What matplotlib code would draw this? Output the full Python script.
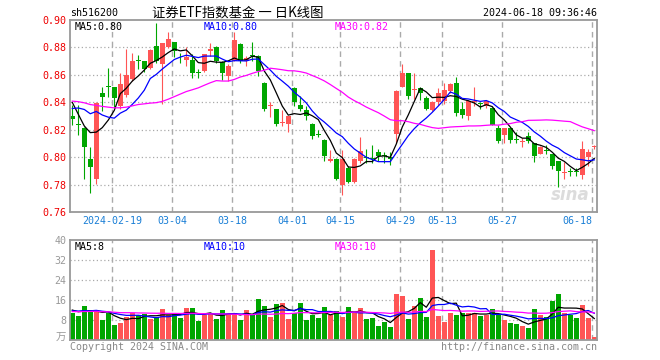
import numpy as np
import pandas as pd
import matplotlib
matplotlib.use("Agg")
import matplotlib.pyplot as plt

# daily K data, 2024-01-31 .. 2024-06-18
opens = [0.8300, 0.8240, 0.8212, 0.7985, 0.7844, 0.8465, 0.8515, 0.8514, 0.8371, 0.8450,
         0.8568, 0.8703, 0.8698, 0.8652, 0.8807, 0.8680, 0.8800, 0.8836, 0.8715, 0.8710,
         0.8706, 0.8614, 0.8627, 0.8775, 0.8806, 0.8695, 0.8594, 0.8702, 0.8828, 0.8700,
         0.8745, 0.8736, 0.8544, 0.8375, 0.8349, 0.8250, 0.8240, 0.8507, 0.8378, 0.8341,
         0.8244, 0.8165, 0.8128, 0.7970, 0.7990, 0.7795, 0.7920, 0.7820, 0.7975, 0.7998,
         0.7993, 0.8035, 0.8010, 0.8002, 0.8166, 0.8515, 0.8612, 0.8490, 0.8502, 0.8429,
         0.8343, 0.8405, 0.8408, 0.8483, 0.8544, 0.8349, 0.8300, 0.8400, 0.8388, 0.8370,
         0.8358, 0.8215, 0.8158, 0.8210, 0.8127, 0.8110, 0.8157, 0.8100, 0.8022, 0.8046,
         0.8020, 0.7971, 0.7888, 0.7893, 0.7893, 0.7870, 0.7998, 0.8073]
highs = [0.8378, 0.8380, 0.8220, 0.8073, 0.8402, 0.8510, 0.8648, 0.8514, 0.8610, 0.8787,
         0.8760, 0.8745, 0.8700, 0.8792, 0.8975, 0.8835, 0.8915, 0.8840, 0.8761, 0.8800,
         0.8751, 0.8646, 0.8752, 0.8834, 0.8808, 0.8700, 0.8678, 0.8912, 0.8830, 0.8735,
         0.8836, 0.8745, 0.8546, 0.8405, 0.8350, 0.8341, 0.8300, 0.8512, 0.8446, 0.8373,
         0.8246, 0.8195, 0.8130, 0.8050, 0.7995, 0.8053, 0.7935, 0.7992, 0.8150, 0.8056,
         0.8085, 0.8056, 0.8040, 0.8037, 0.8490, 0.8678, 0.8614, 0.8612, 0.8508, 0.8446,
         0.8410, 0.8502, 0.8544, 0.8537, 0.8585, 0.8405, 0.8415, 0.8515, 0.8405, 0.8420,
         0.8366, 0.8237, 0.8215, 0.8215, 0.8185, 0.8141, 0.8185, 0.8102, 0.8080, 0.8085,
         0.8022, 0.7975, 0.7963, 0.7922, 0.7922, 0.8117, 0.8060, 0.8092]
lows = [0.8235, 0.8163, 0.7839, 0.7741, 0.7807, 0.8335, 0.8440, 0.8360, 0.8354, 0.8435,
        0.8555, 0.8640, 0.8622, 0.8640, 0.8690, 0.8385, 0.8795, 0.8732, 0.8688, 0.8668,
        0.8578, 0.8576, 0.8620, 0.8735, 0.8690, 0.8560, 0.8555, 0.8700, 0.8690, 0.8665,
        0.8700, 0.8592, 0.8340, 0.8290, 0.8227, 0.8227, 0.8182, 0.8370, 0.8337, 0.8268,
        0.8130, 0.8146, 0.7969, 0.7968, 0.7830, 0.7727, 0.7808, 0.7815, 0.7960, 0.7960,
        0.7960, 0.7970, 0.7960, 0.7940, 0.8105, 0.8510, 0.8427, 0.8422, 0.8417, 0.8341,
        0.8335, 0.8380, 0.8385, 0.8470, 0.8302, 0.8288, 0.8272, 0.8373, 0.8349, 0.8355,
        0.8232, 0.8105, 0.8105, 0.8100, 0.8105, 0.8076, 0.8100, 0.7963, 0.8020, 0.8020,
        0.7912, 0.7783, 0.7840, 0.7861, 0.7866, 0.7840, 0.7935, 0.8060]
closes = [0.8278, 0.8236, 0.8073, 0.7927, 0.8398, 0.8441, 0.8512, 0.8428, 0.8535, 0.8597,
          0.8700, 0.8700, 0.8642, 0.8782, 0.8698, 0.8830, 0.8860, 0.8775, 0.8712, 0.8732,
          0.8616, 0.8612, 0.8750, 0.8785, 0.8700, 0.8610, 0.8665, 0.8854, 0.8702, 0.8720,
          0.8740, 0.8628, 0.8350, 0.8380, 0.8245, 0.8257, 0.8300, 0.8405, 0.8348, 0.8302,
          0.8152, 0.8163, 0.8006, 0.7990, 0.7837, 0.7990, 0.7818, 0.7990, 0.8046, 0.7995,
          0.7990, 0.8008, 0.8007, 0.7990, 0.8483, 0.8612, 0.8449, 0.8496, 0.8470, 0.8349,
          0.8405, 0.8466, 0.8488, 0.8532, 0.8320, 0.8307, 0.8410, 0.8405, 0.8385, 0.8408,
          0.8234, 0.8115, 0.8213, 0.8127, 0.8124, 0.8113, 0.8115, 0.8007, 0.8075, 0.8044,
          0.7937, 0.7898, 0.7892, 0.7892, 0.7891, 0.8056, 0.8040, 0.8076]
# volume, 10k lots
volumes = [10.7, 9.6, 13.6, 12.0, 12.0, 8.0, 10.7, 6.0, 6.9, 9.1,
           10.7, 10.0, 10.4, 8.3, 9.1, 12.4, 10.0, 10.5, 9.0, 13.0,
           12.7, 7.5, 10.0, 11.0, 8.5, 12.0, 10.5, 11.0, 8.0, 12.0,
           10.0, 16.5, 13.7, 9.3, 14.5, 15.0, 8.5, 11.0, 15.0, 8.0,
           10.0, 9.0, 13.3, 10.0, 11.6, 9.1, 13.1, 11.6, 12.7, 8.3,
           8.7, 5.6, 7.1, 5.2, 18.4, 17.6, 8.4, 13.6, 16.8, 9.1,
           36.0, 9.6, 7.3, 10.8, 10.0, 10.7, 10.8, 10.8, 9.6, 10.0,
           12.4, 10.0, 8.0, 6.9, 6.3, 5.6, 4.9, 12.4, 10.0, 9.1,
           15.6, 18.4, 10.8, 10.0, 8.9, 13.9, 8.9, 1.2]

# the 29 sessions before the window (only feed the moving averages)
pre_closes = [0.836, 0.832, 0.831, 0.858, 0.866, 0.868, 0.858, 0.852, 0.846, 0.842,
              0.840, 0.850, 0.862, 0.860, 0.855, 0.838, 0.822, 0.815, 0.818, 0.822,
              0.820, 0.818, 0.824, 0.823, 0.870, 0.867, 0.850, 0.817, 0.838]
pre_volumes = [10.5, 12.0, 11.2, 9.8, 13.5, 10.9, 11.6, 12.4, 9.5, 10.8,
               12.9, 11.3, 10.2, 9.9, 11.8, 12.6, 10.4, 9.7, 11.1, 12.2,
               10.6, 11.9, 12.8, 10.1, 11.5, 13.0, 12.3, 11.4, 12.5]

holidays = ["2024-02-09", "2024-02-12", "2024-02-13", "2024-02-14", "2024-02-15",
            "2024-02-16", "2024-04-04", "2024-04-05", "2024-05-01", "2024-05-02",
            "2024-05-03", "2024-06-10"]
tick_dates = ["2024-02-19", "2024-03-04", "2024-03-18", "2024-04-01", "2024-04-15",
              "2024-04-29", "2024-05-13", "2024-05-27", "2024-06-18"]
tick_labels = ["2024-02-19", "03-04", "03-18", "04-01", "04-15",
               "04-29", "05-13", "05-27", "06-18"]

RED = "#ff5555"
GREEN = "#00a600"
GRID = "#aaaaaa"
FRAME = "#999999"
MONO = "DejaVu Sans Mono"
W, H = 660.0, 360.0


def moving_avg(pre, vals, n):
    s = pd.Series(list(pre) + list(vals))
    return s.rolling(n).mean().values[len(pre):]


def style_axes(ax, ticks_x, hlines):
    for sp in ax.spines.values():
        sp.set_color(FRAME)
        sp.set_linewidth(1.3)
    for xv in ticks_x:
        ax.axvline(xv, color=GRID, lw=1.0, ls=(0, (4, 3)), zorder=0)
    for yv in hlines:
        ax.axhline(yv, color=GRID, lw=0.9, ls=(0, (1, 2)), zorder=0)
    ax.set_xticks([])
    ax.tick_params(axis="y", length=0, pad=2.5, labelsize=7.2)
    for lab in ax.get_yticklabels():
        lab.set_family(MONO)


def main():
    days = pd.bdate_range("2024-01-31", "2024-06-18")
    days = days[~days.isin(pd.to_datetime(holidays))]
    n = len(closes)
    x = np.arange(n)
    o = np.array(opens)
    c = np.array(closes)
    up = c >= o
    cols = np.where(up, RED, GREEN)
    tick_idx = [days.get_loc(pd.Timestamp(d)) for d in tick_dates]
    grid_x = [i - 0.35 for i in tick_idx]

    fig = plt.figure(figsize=(W / 100, H / 100), dpi=100)
    ax = fig.add_axes([70 / W, 1 - 212 / H, 527 / W, 192 / H])
    axv = fig.add_axes([70 / W, 1 - 340 / H, 527 / W, 100 / H])

    # price panel
    ax.vlines(x, lows, highs, colors=cols, lw=0.8, zorder=2)
    ax.bar(x, np.maximum(np.abs(c - o), 0.0007), bottom=np.minimum(o, c),
           width=0.75, color=cols, linewidth=0, zorder=2)
    ax.plot(x, moving_avg(pre_closes, closes, 5), color="black", lw=0.9, zorder=3)
    ax.plot(x, moving_avg(pre_closes, closes, 10), color="#0000ff", lw=0.9, zorder=3)
    ax.plot(x, moving_avg(pre_closes, closes, 30), color="#ff00ff", lw=0.9, zorder=3)
    ax.set_xlim(-0.38, n - 0.55)
    ax.set_ylim(0.76, 0.90)
    ax.set_yticks(np.arange(0.76, 0.901, 0.02))
    ax.set_yticklabels(["%.2f" % v for v in np.arange(0.76, 0.901, 0.02)])
    style_axes(ax, grid_x, np.arange(0.78, 0.89, 0.02))
    ax.tick_params(axis="y", labelcolor="#ee0000")

    for i, lab in zip(grid_x, tick_labels):
        ha = "right" if lab == tick_labels[-1] else "center"
        ax.text(i, -0.047, lab, transform=ax.get_xaxis_transform(), ha=ha,
                va="center", fontsize=7.2, family=MONO, color="#1a7fd6")

    ax.text(5 / 527, 1 - 7 / 192, "MA5:0.80", transform=ax.transAxes, fontsize=7.2,
            family=MONO, color="black", va="center")
    ax.text(134 / 527, 1 - 7 / 192, "MA10:0.80", transform=ax.transAxes, fontsize=7.2,
            family=MONO, color="#0000ff", va="center")
    ax.text(265 / 527, 1 - 7 / 192, "MA30:0.82", transform=ax.transAxes, fontsize=7.2,
            family=MONO, color="#ff00ff", va="center")
    ax.text(0.985, 0.09, "sina", transform=ax.transAxes, ha="right", va="center",
            fontsize=12, fontweight="bold", style="italic", color="#dcdcdc", zorder=1)

    # volume panel
    axv.bar(x, volumes, width=0.8, color=cols, linewidth=0, zorder=2)
    axv.plot(x, moving_avg(pre_volumes, volumes, 5), color="black", lw=0.9, zorder=3)
    axv.plot(x, moving_avg(pre_volumes, volumes, 10), color="#0000ff", lw=0.9, zorder=3)
    axv.plot(x, moving_avg(pre_volumes, volumes, 30), color="#ff00ff", lw=0.9, zorder=3)
    axv.set_xlim(-0.38, n - 0.55)
    axv.set_ylim(0, 40)
    axv.set_yticks([8, 16, 24, 32, 40])
    style_axes(axv, grid_x, [8, 16, 24, 32])
    axv.tick_params(axis="y", labelcolor=FRAME)
    axv.text(5 / 527, 1 - 7 / 100, "MA5:8", transform=axv.transAxes, fontsize=7.2,
             family=MONO, color="black", va="center")
    axv.text(134 / 527, 1 - 7 / 100, "MA10:10", transform=axv.transAxes, fontsize=7.2,
             family=MONO, color="#0000ff", va="center")
    axv.text(265 / 527, 1 - 7 / 100, "MA30:10", transform=axv.transAxes, fontsize=7.2,
             family=MONO, color="#ff00ff", va="center")
    fig.text(66 / W, 1 - 338 / H, "万", ha="right", va="center", fontsize=7.5,
             family=["Noto Sans CJK SC", "DejaVu Sans"], color=FRAME)

    # header / footer
    fig.text(70 / W, 1 - 13 / H, "sh516200", fontsize=7.2, family=MONO, va="center")
    fig.text(238 / W, 1 - 13 / H, "证券ETF指数基金 一 日K线图", ha="center", va="center",
             fontsize=9.6, family=["Noto Sans CJK SC", "DejaVu Sans"])
    fig.text(597 / W, 1 - 13 / H, "2024-06-18 09:36:46", ha="right", fontsize=7.2,
             family=MONO, va="center")
    fig.text(70 / W, 1 - 347 / H, "Copyright 2024 SINA.COM", fontsize=7.2,
             family=MONO, va="center", color="#888888")
    fig.text(597 / W, 1 - 347 / H, "http://finance.sina.com.cn", ha="right",
             fontsize=7.2, family=MONO, va="center", color="#888888")

    fig.savefig("out.png", dpi=100)


if __name__ == "__main__":
    main()
